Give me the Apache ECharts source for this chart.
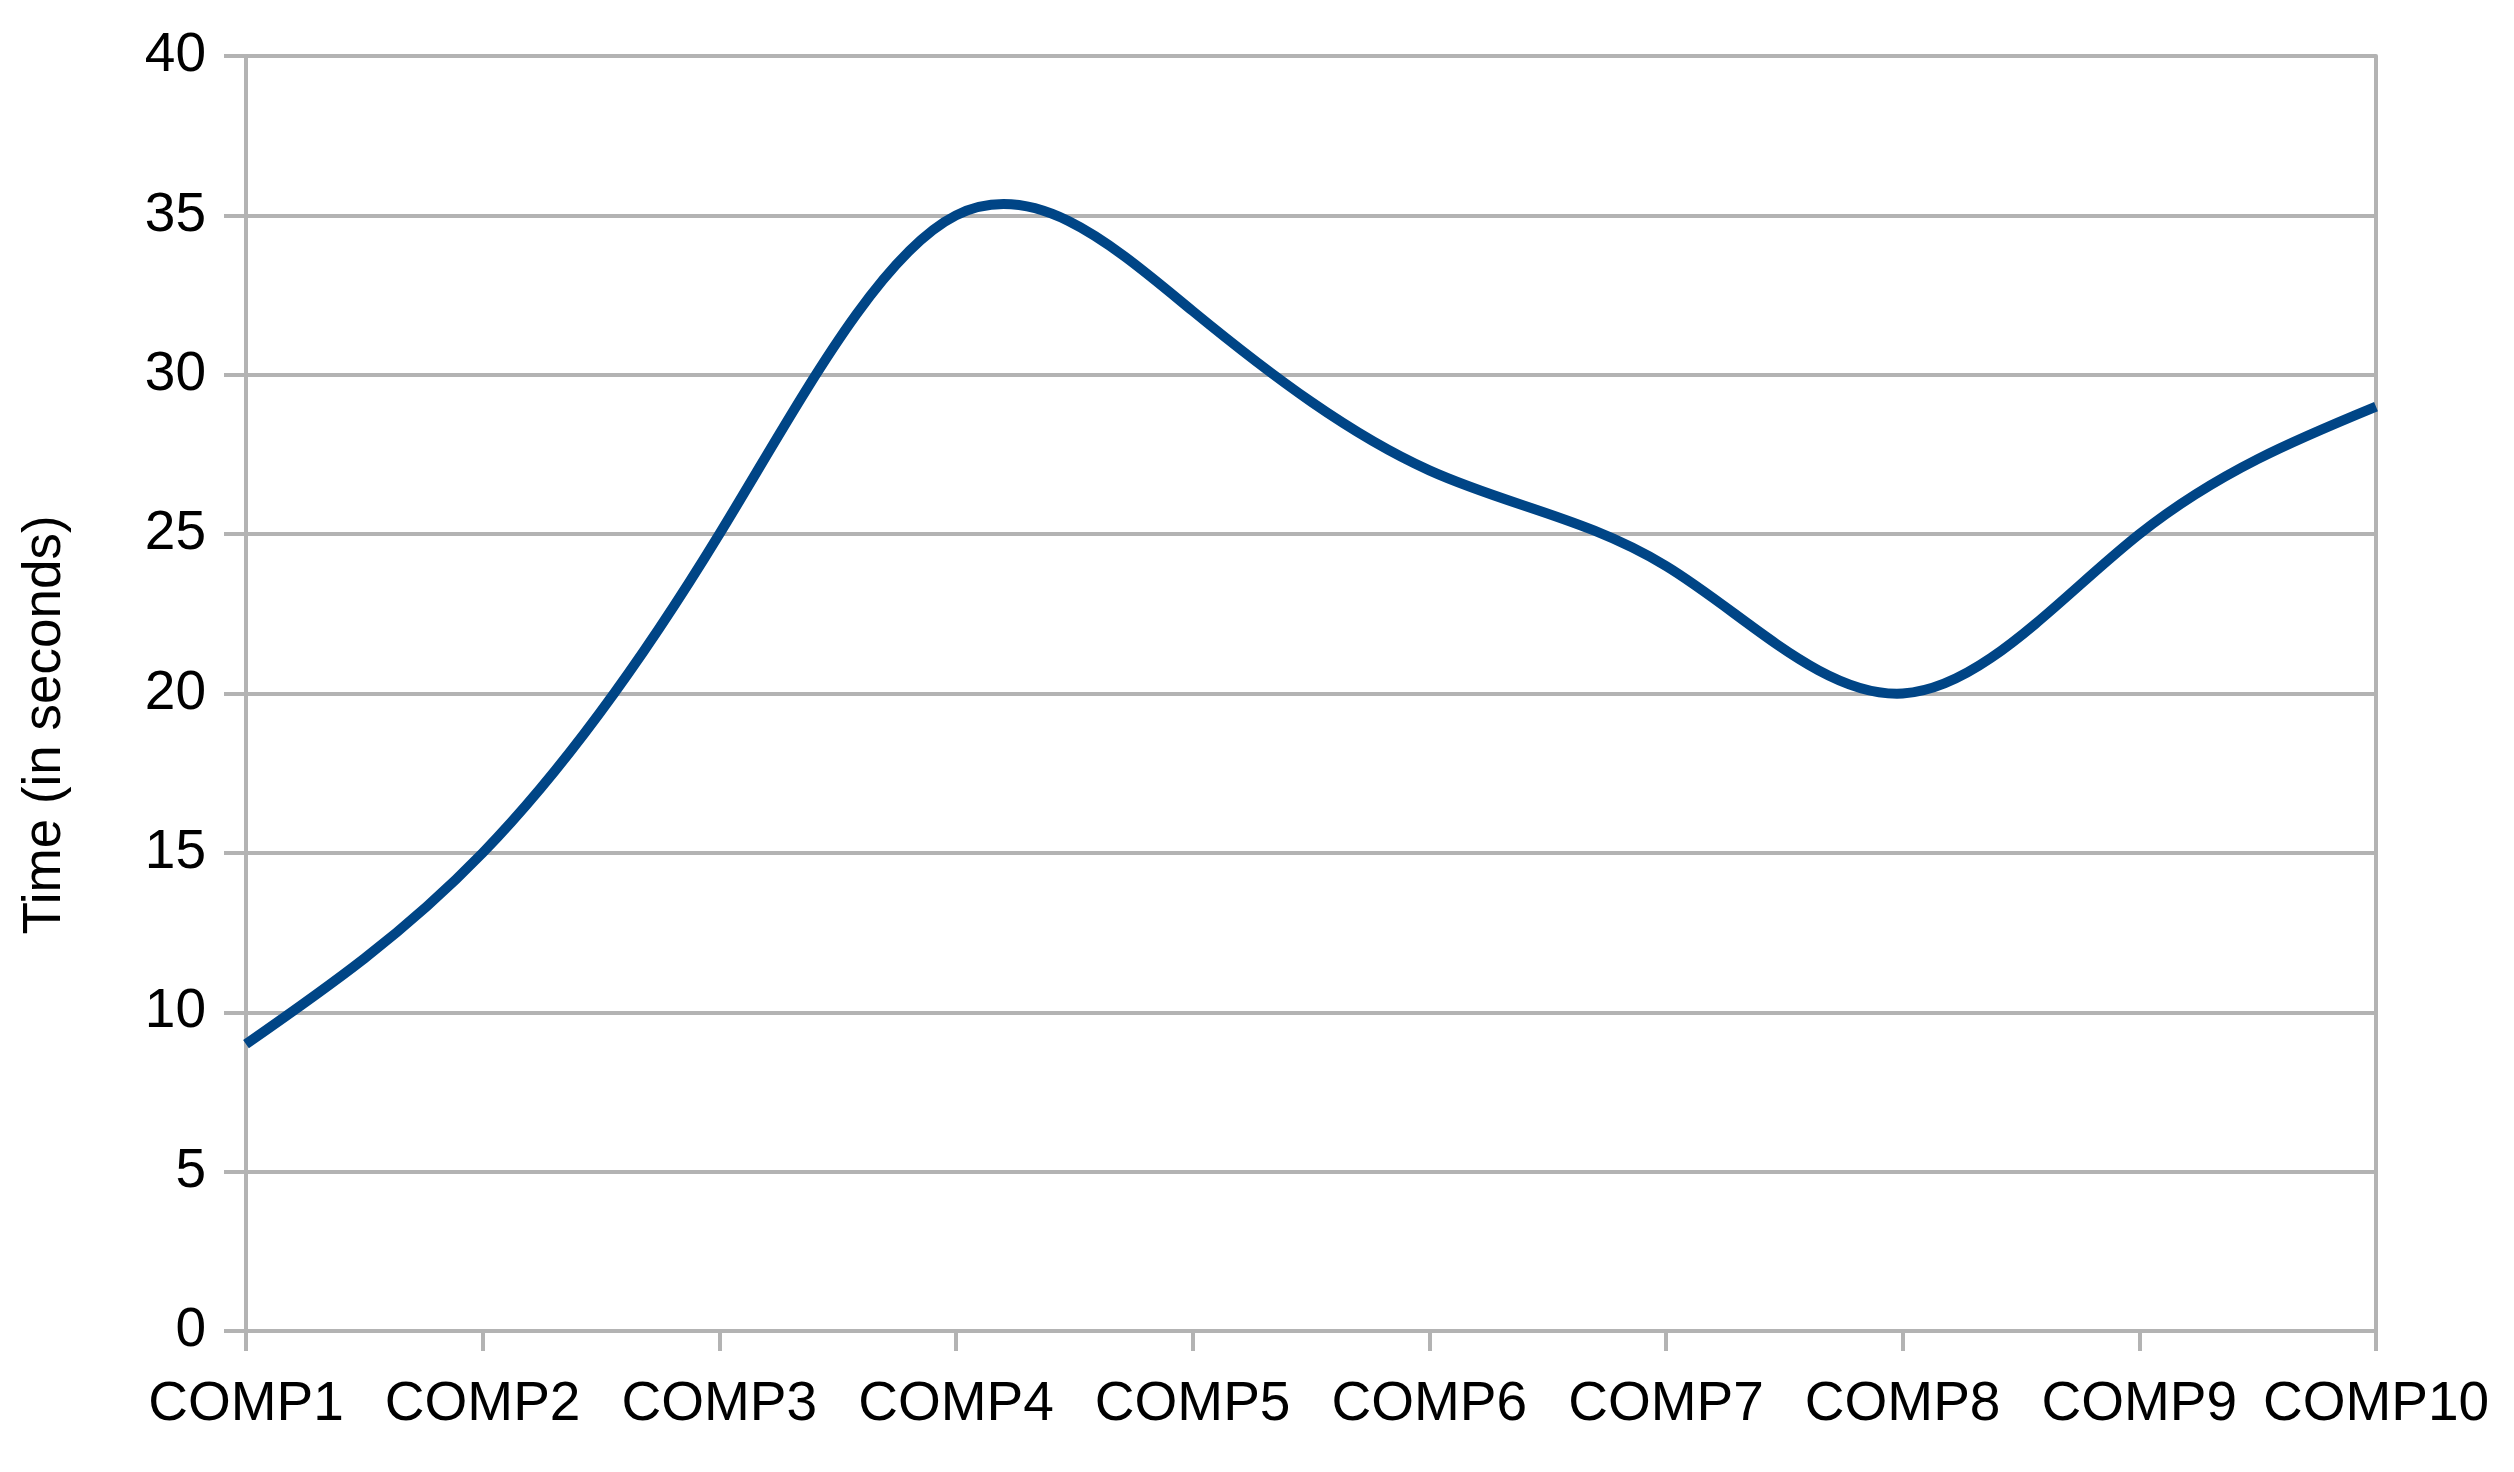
<!DOCTYPE html>
<html>
<head>
<meta charset="utf-8">
<script src="https://cdn.jsdelivr.net/npm/echarts@6/dist/echarts.min.js"></script>
<style>
html,body{margin:0;padding:0;background:#fff;}
#chart{width:2514px;height:1472px;}
</style>
</head>
<body>
<div id="chart"></div>
<script>
const categories = ['COMP1','COMP2','COMP3','COMP4','COMP5','COMP6','COMP7','COMP8','COMP9','COMP10'];
const timeValues = [9, 15, 25, 35, 32, 27, 24, 20, 25, 29];
const yTicks = { min: 0, max: 40, interval: 5 };
const yTitle = 'Time (in seconds)';

// natural cubic spline second derivatives (unit spacing), used only to shape the drawn curve
function splineSecondDerivs(y) {
  const n = y.length;
  const M = new Array(n).fill(0);
  if (n < 3) return M;
  const m = n - 2;
  const a = [], b = [], c = [], d = [];
  for (let i = 1; i <= m; i++) {
    a.push(1); b.push(4); c.push(1);
    d.push(6 * (y[i + 1] - 2 * y[i] + y[i - 1]));
  }
  for (let i = 1; i < m; i++) {
    const w = a[i] / b[i - 1];
    b[i] -= w * c[i - 1];
    d[i] -= w * d[i - 1];
  }
  const x = new Array(m);
  x[m - 1] = d[m - 1] / b[m - 1];
  for (let i = m - 2; i >= 0; i--) x[i] = (d[i] - c[i] * x[i + 1]) / b[i];
  for (let i = 1; i <= m; i++) M[i] = x[i - 1];
  return M;
}

const chart = echarts.init(document.getElementById('chart'), null, {renderer: 'canvas'});
const font = '"Liberation Sans", Arial, sans-serif';
const gridColor = '#b3b3b3';
const gw = 4;
chart.setOption({
  animation: false,
  backgroundColor: '#ffffff',
  grid: { left: 246, right: 138, top: 56, bottom: 141, containLabel: false },
  xAxis: {
    type: 'category',
    data: categories,
    boundaryGap: false,
    axisLine: { show: true, lineStyle: { color: gridColor, width: gw } },
    axisTick: { show: true, length: 20, lineStyle: { color: gridColor, width: gw } },
    axisLabel: { color: '#000', fontFamily: font, fontSize: 55, margin: 46, interval: 0 },
    splitLine: { show: false }
  },
  yAxis: [{
    type: 'value',
    min: yTicks.min, max: yTicks.max, interval: yTicks.interval,
    axisLine: { show: true, lineStyle: { color: gridColor, width: gw } },
    axisTick: { show: true, length: 22, lineStyle: { color: gridColor, width: gw } },
    axisLabel: { color: '#000', fontFamily: font, fontSize: 55, margin: 40 },
    splitLine: { show: true, lineStyle: { color: gridColor, width: gw } }
  }, {
    type: 'value',
    position: 'right',
    min: yTicks.min, max: yTicks.max, interval: yTicks.interval,
    axisLine: { show: true, lineStyle: { color: gridColor, width: gw } },
    axisTick: { show: false },
    axisLabel: { show: false },
    splitLine: { show: false }
  }],
  graphic: [{
    type: 'text',
    x: 45, y: 725,
    rotation: Math.PI / 2,
    style: {
      text: yTitle,
      fill: '#000',
      font: '53px "Liberation Sans", Arial, sans-serif',
      textAlign: 'center',
      textVerticalAlign: 'middle'
    }
  }],
  series: [{
    type: 'custom',
    data: timeValues.map((v, i) => [i, v]),
    encode: { x: 0, y: 1 },
    clip: false,
    z: 5,
    renderItem: function (params, api) {
      if (params.dataIndex !== 0) return null;
      const y = timeValues;
      const M = splineSecondDerivs(y);
      const pts = y.map((v, i) => api.coord([i, v]));
      let d = 'M' + pts[0][0] + ' ' + pts[0][1];
      for (let i = 0; i < y.length - 1; i++) {
        const dy = y[i + 1] - y[i];
        const s0 = dy - (2 * M[i] + M[i + 1]) / 6;
        const s1 = dy + (M[i] + 2 * M[i + 1]) / 6;
        const c1y = api.coord([i, y[i] + s0 / 3])[1];
        const c2y = api.coord([i + 1, y[i + 1] - s1 / 3])[1];
        const x0 = pts[i][0], x1 = pts[i + 1][0];
        const c1x = x0 + (x1 - x0) / 3, c2x = x1 - (x1 - x0) / 3;
        d += ' C' + c1x + ' ' + c1y + ' ' + c2x + ' ' + c2y + ' ' + x1 + ' ' + pts[i + 1][1];
      }
      return {
        type: 'path',
        shape: { pathData: d },
        style: { fill: null, stroke: '#004586', lineWidth: 10, lineJoin: 'round' }
      };
    }
  }]
});
</script>
</body>
</html>
